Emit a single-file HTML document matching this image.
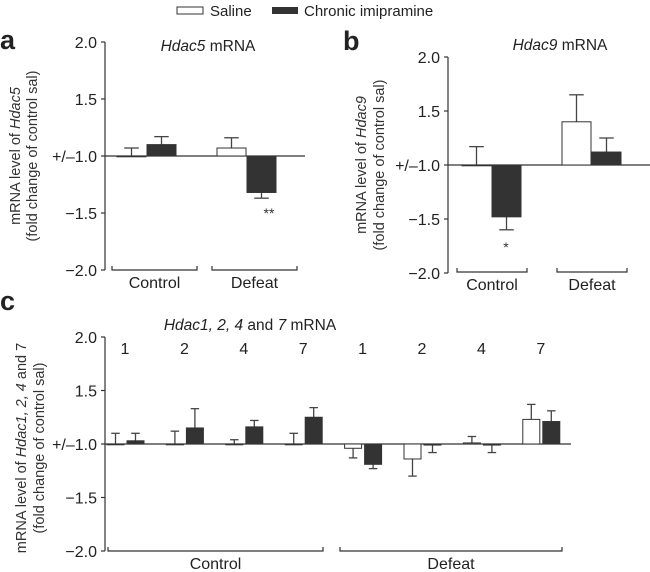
<!DOCTYPE html>
<html><head><meta charset="utf-8"><style>
html,body{margin:0;padding:0;background:#fff;}
svg{display:block;font-family:"Liberation Sans",sans-serif;}
</style></head><body>
<svg id="chart" width="650" height="572" viewBox="0 0 650 572" xmlns="http://www.w3.org/2000/svg">
<g>
<rect x="177" y="7" width="26" height="7" fill="#fff" stroke="#333" stroke-width="1"/>
<text x="210" y="16" font-size="15" fill="#222">Saline</text>
<rect x="272" y="7" width="26" height="7" fill="#333"/>
<text x="304" y="16" font-size="15" fill="#222">Chronic imipramine</text>
</g>
<text x="0" y="49" font-size="27" font-weight="bold" fill="#222">a</text>
<text x="343" y="50" font-size="27" font-weight="bold" fill="#222">b</text>
<text x="0" y="310" font-size="27" font-weight="bold" fill="#222">c</text>
</svg>
<script>
// Panel a data
const aCategories = ["Control","Defeat"];
const aSaline = [1.0, 1.07];
const aSalineErr = [1.07, 1.16];
const aImip = [1.10, -1.32];
const aImipErr = [1.17, -1.37];
// Panel b data
const bCategories = ["Control","Defeat"];
const bSaline = [1.0, 1.40];
const bSalineErr = [1.17, 1.65];
const bImip = [-1.48, 1.12];
const bImipErr = [-1.60, 1.25];
// Panel c data
const cGenes = ["1","2","4","7","1","2","4","7"];
const cGroups = ["Control","Defeat"];
const cSaline = [1.0, 1.0, 1.0, 1.0, -1.04, -1.14, 1.01, 1.23];
const cSalineErr = [1.10, 1.12, 1.04, 1.10, -1.13, -1.30, 1.07, 1.37];
const cImip = [1.03, 1.15, 1.16, 1.25, -1.19, -1.01, -1.01, 1.21];
const cImipErr = [1.10, 1.33, 1.22, 1.34, -1.23, -1.08, -1.08, 1.31];
const yTicks = [2.0, 1.5, 1.0, -1.5, -2.0];
const yTickLabels = ["2.0","1.5","+/\u20131.0","\u22121.5","\u22122.0"];

const svg = document.getElementById('chart');
const NS = "http://www.w3.org/2000/svg";
function mk(tag, attrs, parent){
  const e = document.createElementNS(NS, tag);
  for (const k in attrs) e.setAttribute(k, attrs[k]);
  (parent||svg).appendChild(e); return e;
}
function offset(v){ return v >= 0 ? v - 1 : v + 1; }

function axes(P, name){
  const g = mk('g', {});
  
  
  const ay = v => P.base - offset(v) * P.scale;
  const l = mk('line', {x1:P.ax, x2:P.ax, y1:ay(2), y2:ay(-2), stroke:'#333', 'stroke-width':1.2}, g);
  
  
  yTicks.forEach((t, i) => {
    const tk = mk('line', {x1:P.ax-4, x2:P.ax, y1:ay(t), y2:ay(t), stroke:'#333', 'stroke-width':1.2}, g);
    
    
    const tx = mk('text', {x:P.ax-8, y:ay(t)+6, 'text-anchor':'end', 'font-size':16, fill:'#222'}, g);
    tx.textContent = yTickLabels[i];
    
    
  });
  const bl = mk('line', {x1:P.ax, x2:P.bEnd, y1:P.base, y2:P.base, stroke:'#333', 'stroke-width':1.2}, g);
  
  
  return ay;
}
function bar(ay, x, w, v, e, fill, name){
  const y0 = ay(1), yv = ay(v), ye = ay(e);
  const top = Math.min(y0, yv), h = Math.max(Math.abs(yv - y0), 0.8);
  const cx = x + w/2;
  const el = mk('line', {x1:cx, x2:cx, y1:yv, y2:ye, stroke:'#444', 'stroke-width':1.3});
  
  
  const cap = mk('line', {x1:cx-w/4, x2:cx+w/4, y1:ye, y2:ye, stroke:'#444', 'stroke-width':1.3});
  
  
  const r = mk('rect', {x:x, y:top, width:w, height:h, fill:fill, stroke:'#333', 'stroke-width':1});
  
  
}
function bracket(x1, x2, y, label, name){
  const p = mk('path', {d:`M${x1},${y-4}V${y}H${x2}V${y-4}`, fill:'none', stroke:'#333', 'stroke-width':1.2});
  
  
  const t = mk('text', {x:(x1+x2)/2, y:y+18, 'text-anchor':'middle', 'font-size':16, fill:'#222'});
  t.textContent = label;
  
  
}
function ylabel(x, cy, html, name){
  const t = mk('text', {transform:`translate(${x},${cy}) rotate(-90)`, 'text-anchor':'middle', 'font-size':14.5, fill:'#333'});
  t.innerHTML = html;
  
  
}
function title(x, y, html, name){
  const t = mk('text', {x:x, y:y, 'text-anchor':'middle', 'font-size':15.5, fill:'#222'});
  t.innerHTML = html;
  
  
}

// Panel a
const PA = {ax:105, base:156, scale:114, bEnd:305};
const ayA = axes(PA, 'panel-a');
const aX = [117, 217];
aCategories.forEach((c, i) => {
  bar(ayA, aX[i], 29, aSaline[i], aSalineErr[i], '#fff', 'panel-a-bar-saline-' + c.toLowerCase());
  bar(ayA, aX[i]+30, 29, aImip[i], aImipErr[i], '#333', 'panel-a-bar-imipramine-' + c.toLowerCase());
  bracket(aX[i]-5, aX[i]+80, 270, c, 'panel-a-' + c.toLowerCase());
});
title(208, 51, '<tspan font-style="italic">Hdac5</tspan> mRNA', 'panel-a-title');
const sa = mk('text', {x:269, y:218, 'text-anchor':'middle', 'font-size':14, fill:'#333'});
sa.textContent = '**';


ylabel(20, 156, 'mRNA level of <tspan font-style="italic">Hdac5</tspan>', 'panel-a-y-title');
ylabel(37, 156, '(fold change of control sal)', 'panel-a-y-subtitle');

// Panel b
const PB = {ax:448, base:165, scale:108, bEnd:650};
const ayB = axes(PB, 'panel-b');
const bX = [462, 562];
bCategories.forEach((c, i) => {
  bar(ayB, bX[i], 29, bSaline[i], bSalineErr[i], '#fff', 'panel-b-bar-saline-' + c.toLowerCase());
  bar(ayB, bX[i]+30, 29, bImip[i], bImipErr[i], '#333', 'panel-b-bar-imipramine-' + c.toLowerCase());
  bracket(bX[i]-5, bX[i]+65, 272, c, 'panel-b-' + c.toLowerCase());
});
title(560, 50, '<tspan font-style="italic">Hdac9</tspan> mRNA', 'panel-b-title');
const sb = mk('text', {x:506, y:252, 'text-anchor':'middle', 'font-size':14, fill:'#333'});
sb.textContent = '*';


ylabel(366, 165, 'mRNA level of <tspan font-style="italic">Hdac9</tspan>', 'panel-b-y-title');
ylabel(384, 165, '(fold change of control sal)', 'panel-b-y-subtitle');

// Panel c
const PC = {ax:105, base:444, scale:107, bEnd:571};
const ayC = axes(PC, 'panel-c');
cGenes.forEach((g, i) => {
  const x = 107 + i * 59.4;
  const grp = i < 4 ? 'control' : 'defeat';
  bar(ayC, x, 17, cSaline[i], cSalineErr[i], '#fff', 'panel-c-bar-saline-' + grp + '-hdac' + g);
  bar(ayC, x+20, 17, cImip[i], cImipErr[i], '#333', 'panel-c-bar-imipramine-' + grp + '-hdac' + g);
  const t = mk('text', {x:x+18, y:354, 'text-anchor':'middle', 'font-size':16, fill:'#222'});
  t.textContent = g;
  
  
});
bracket(108, 323, 551, cGroups[0], 'panel-c-control');
bracket(340, 562, 551, cGroups[1], 'panel-c-defeat');
title(250, 330, '<tspan font-style="italic">Hdac1, 2, 4</tspan> and <tspan font-style="italic">7</tspan> mRNA', 'panel-c-title');
ylabel(26, 448, 'mRNA level of <tspan font-style="italic">Hdac1, 2, 4</tspan> and 7', 'panel-c-y-title');
ylabel(44, 448, '(fold change of control sal)', 'panel-c-y-subtitle');
</script>
</body></html>
